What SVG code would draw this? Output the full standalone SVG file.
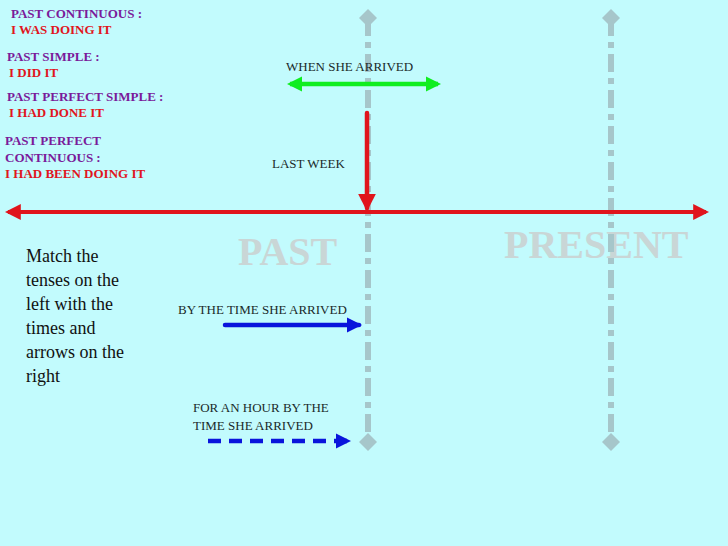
<svg xmlns="http://www.w3.org/2000/svg" width="728" height="546" viewBox="0 0 728 546">
<defs>
<style>
.h{font-family:"Liberation Serif",serif;font-weight:bold;font-size:13px;fill:#7a1a9a}
.r{font-family:"Liberation Serif",serif;font-weight:bold;font-size:13px;fill:#e0161e}
.l{font-family:"Liberation Serif",serif;font-size:13px;fill:#1a2a2a}
.big{font-family:"Liberation Serif",serif;font-weight:bold;font-size:40px;fill:#c9d6d6}
.m{font-family:"Liberation Serif",serif;font-size:18px;fill:#111}
.v{stroke:#a6c6ca;stroke-width:6;stroke-dasharray:18 6 6 6;fill:none}
</style>
<marker id="dm" viewBox="-5 -5 10 10" markerWidth="3" markerHeight="3" orient="auto"><path d="M-5 0 0-5 5 0 0 5z" fill="#a6c6ca"/></marker>
<marker id="ar" viewBox="0 0 10 10" refX="8" refY="5" markerWidth="4" markerHeight="4" orient="auto-start-reverse"><path d="M0 0 10 5 0 10z" fill="#e0141c"/></marker>
<marker id="ag" viewBox="0 0 10 10" refX="8" refY="5" markerWidth="3.4" markerHeight="3.4" orient="auto-start-reverse"><path d="M0 0 10 5 0 10z" fill="#10ee20"/></marker>
<marker id="ab" viewBox="0 0 10 10" refX="8" refY="5" markerWidth="3.4" markerHeight="3.4" orient="auto"><path d="M0 0 10 5 0 10z" fill="#0a14dc"/></marker>
</defs>
<rect width="728" height="546" fill="#c2fbfd"/>
<text class="big" x="238" y="265">PAST</text>
<text class="big" x="504" y="258">PRESENT</text>
<g id="connectors">
<line class="v" x1="368" y1="18" x2="368" y2="442" marker-start="url(#dm)" marker-end="url(#dm)"/>
<line class="v" x1="611" y1="18" x2="611" y2="442" marker-start="url(#dm)" marker-end="url(#dm)"/>
<line x1="8" y1="212" x2="706" y2="212" stroke="#e0141c" stroke-width="4" marker-start="url(#ar)" marker-end="url(#ar)"/>
<line x1="367" y1="113" x2="367" y2="208" stroke="#e0141c" stroke-width="4.5" stroke-linecap="round" marker-end="url(#ar)"/>
<line x1="290" y1="84" x2="438" y2="84" stroke="#10ee20" stroke-width="4.5" marker-start="url(#ag)" marker-end="url(#ag)"/>
<line x1="225" y1="325" x2="359" y2="325" stroke="#0a14dc" stroke-width="4.5" stroke-linecap="round" marker-end="url(#ab)"/>
<line x1="208" y1="441" x2="348" y2="441" stroke="#0a14dc" stroke-width="4.5" stroke-dasharray="13 8" marker-end="url(#ab)"/>
</g>
<g id="tenses">
<text class="h" x="11" y="18">PAST CONTINUOUS :</text>
<text class="r" x="11" y="34">I WAS DOING IT</text>
<text class="h" x="7" y="61">PAST SIMPLE :</text>
<text class="r" x="9" y="77">I DID IT</text>
<text class="h" x="7" y="101">PAST PERFECT SIMPLE :</text>
<text class="r" x="9" y="117">I HAD DONE IT</text>
<text class="h" x="5" y="145">PAST PERFECT</text>
<text class="h" x="5" y="162">CONTINUOUS :</text>
<text class="r" x="5" y="178">I HAD BEEN DOING IT</text>
</g>
<g id="labels">
<text class="l" x="286" y="71">WHEN SHE ARRIVED</text>
<text class="l" x="272" y="168">LAST WEEK</text>
<text class="l" x="178" y="314">BY THE TIME SHE ARRIVED</text>
<text class="l" x="193" y="412">FOR AN HOUR BY THE</text>
<text class="l" x="193" y="430">TIME SHE ARRIVED</text>
</g>
<g id="instruction">
<text class="m" x="26" y="262">Match the</text>
<text class="m" x="26" y="286">tenses on the</text>
<text class="m" x="26" y="310">left with the</text>
<text class="m" x="26" y="334">times and</text>
<text class="m" x="26" y="358">arrows on the</text>
<text class="m" x="26" y="382">right</text>
</g>
</svg>
